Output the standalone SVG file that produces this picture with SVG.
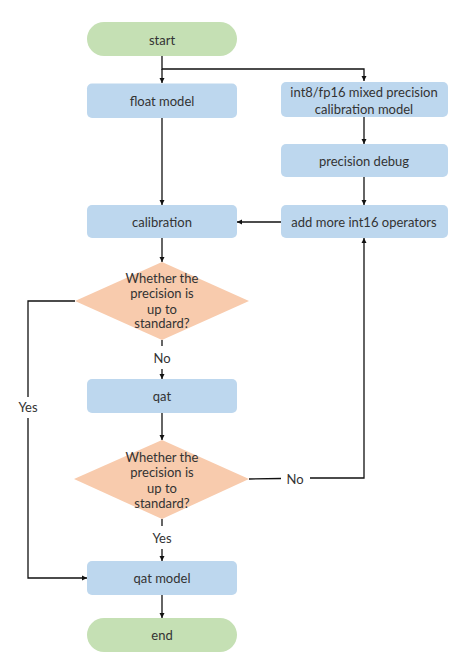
<svg xmlns="http://www.w3.org/2000/svg" width="474" height="669" viewBox="0 0 474 669">
<defs>
<marker id="arr" markerWidth="6" markerHeight="6" refX="5" refY="3" orient="auto" markerUnits="userSpaceOnUse">
<path d="M0,0.5 L5,3 L0,5.5 Z" fill="#111"/>
</marker>
<style>
.term{fill:#c5e0b4}
.box{fill:#bdd7ee}
.dec{fill:#f8cbad}
text{font-family:"Lato","Noto Sans",sans-serif;font-size:13px;fill:#333;text-anchor:middle;dominant-baseline:central}
.ln{fill:none;stroke:#111;stroke-width:1.3}
</style>
</defs>
<rect width="474" height="669" fill="#fff"/>
<g id="connectors">
<path class="ln" d="M162,56 V69 H364 V81" marker-end="url(#arr)"/>
<path class="ln" d="M162,69 V83" marker-end="url(#arr)"/>
<path class="ln" d="M162,118 V205" marker-end="url(#arr)"/>
<path class="ln" d="M364,117 V144" marker-end="url(#arr)"/>
<path class="ln" d="M364,177 V205" marker-end="url(#arr)"/>
<path class="ln" d="M281,222 H237" marker-end="url(#arr)"/>
<path class="ln" d="M162,238 V262" marker-end="url(#arr)"/>
<path class="ln" d="M162,340 V346"/>
<path class="ln" d="M162,369 V379" marker-end="url(#arr)"/>
<text x="162" y="358">No</text>
<path class="ln" d="M75,301 H28 V397"/>
<path class="ln" d="M28,418 V578 H87" marker-end="url(#arr)"/>
<text x="28" y="407">Yes</text>
<path class="ln" d="M162,413 V440" marker-end="url(#arr)"/>
<path class="ln" d="M249,479 L281,478.5"/>
<path class="ln" d="M310,478 H364 V238" marker-end="url(#arr)"/>
<text x="295" y="479">No</text>
<path class="ln" d="M162,519 V526"/>
<path class="ln" d="M162,549 V561" marker-end="url(#arr)"/>
<text x="162" y="538">Yes</text>
<path class="ln" d="M162,595 V618" marker-end="url(#arr)"/>
</g>
<g id="start"><rect class="term" x="87" y="22" width="150" height="34" rx="17"/><text x="162" y="40">start</text></g>
<g id="float-model"><rect class="box" x="87" y="83.5" width="150" height="34.5" rx="5"/><text x="162" y="101">float model</text></g>
<g id="mixed-model"><rect class="box" x="281" y="82" width="167" height="35" rx="5"/><text x="364" y="92">int8/fp16 mixed precision</text><text x="364" y="108.5">calibration model</text></g>
<g id="precision-debug"><rect class="box" x="281" y="144" width="167" height="33" rx="5"/><text x="364" y="161">precision debug</text></g>
<g id="add-int16"><rect class="box" x="281" y="205" width="167" height="33" rx="5"/><text x="364" y="222">add more int16 operators</text></g>
<g id="calibration"><rect class="box" x="87" y="205" width="150" height="33" rx="5"/><text x="162" y="222">calibration</text></g>
<g id="decision1"><polygon class="dec" points="162,262 249,301 162,340 75,301"/>
<text x="162" y="278">Whether the</text><text x="162" y="293">precision is</text><text x="162" y="308.5">up to</text><text x="162" y="323">standard?</text></g>
<g id="qat"><rect class="box" x="87" y="379" width="150" height="34" rx="5"/><text x="162" y="396">qat</text></g>
<g id="decision2"><polygon class="dec" points="162,440 249,479 162,519 74,479"/>
<text x="162" y="456.5">Whether the</text><text x="162" y="472">precision is</text><text x="162" y="487.5">up to</text><text x="162" y="502.5">standard?</text></g>
<g id="qat-model"><rect class="box" x="87" y="561" width="150" height="34" rx="5"/><text x="162" y="578">qat model</text></g>
<g id="end"><rect class="term" x="87" y="618" width="150" height="34" rx="17"/><text x="162" y="635">end</text></g>
</svg>
